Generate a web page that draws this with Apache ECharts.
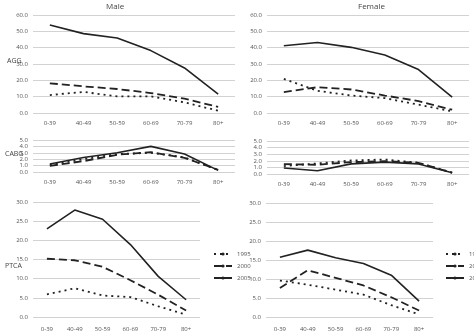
<!DOCTYPE html>
<html><head><meta charset="utf-8">
<script src="https://cdn.jsdelivr.net/npm/echarts@6/dist/echarts.min.js"></script>
<style>html,body{margin:0;padding:0;background:#fff}#c{width:474px;height:332px}</style>
</head><body><div id="c"></div>
<script>
const categories = ['0-39','40-49','50-59','60-69','70-79','80+'];
const years = ['1995','2000','2005'];
// AGG
const maleAgg1995 = [11.0, 12.9, 10.2, 10.2, 6.5, 1.4];
const maleAgg2000 = [18.2, 16.3, 14.7, 12.2, 8.8, 3.7];
const maleAgg2005 = [53.9, 48.6, 45.9, 38.2, 27.6, 11.6];
const femaleAgg1995 = [20.9, 13.6, 10.7, 9.1, 5.1, 1.0];
const femaleAgg2000 = [12.8, 15.8, 14.4, 10.7, 7.3, 2.0];
const femaleAgg2005 = [41.2, 43.2, 40.2, 35.5, 26.6, 9.7];
// CABG
const maleCabg1995 = [1.1, 2.0, 2.8, 3.0, 2.3, 0.3];
const maleCabg2000 = [0.96, 1.7, 2.7, 3.1, 2.2, 0.35];
const maleCabg2005 = [1.26, 2.27, 3.0, 4.0, 2.8, 0.25];
const femaleCabg1995 = [1.2, 1.6, 2.05, 2.2, 1.7, 0.2];
const femaleCabg2000 = [1.5, 1.4, 1.8, 1.94, 1.7, 0.2];
const femaleCabg2005 = [0.92, 0.5, 1.53, 1.8, 1.53, 0.2];
// PTCA
const malePtca1995 = [5.9, 7.5, 5.6, 5.2, 2.8, 0.6];
const malePtca2000 = [15.2, 14.8, 13.1, 9.6, 5.8, 1.7];
const malePtca2005 = [23.0, 27.9, 25.5, 18.9, 10.6, 4.5];
const femalePtca1995 = [9.6, 8.5, 7.2, 5.9, 3.1, 0.7];
const femalePtca2000 = [7.65, 12.3, 10.3, 8.3, 5.2, 1.7];
const femalePtca2005 = [15.7, 17.6, 15.6, 14.1, 11.0, 4.2];
const aggTicks = {min:0, max:60, interval:10};
const cabgTicks = {min:0, max:5, interval:1};
const ptcaTicks = {min:0, max:30, interval:5};

const FONT = 'Open Sans';
const grids = [
  {left:33, top:15, width:202, height:98},
  {left:267, top:15, width:202, height:98},
  {left:33, top:140, width:202, height:32},
  {left:267, top:141, width:202, height:33},
  {left:33, top:202, width:167, height:116},
  {left:266, top:203, width:167, height:115}
];
const ticks = [aggTicks, aggTicks, cabgTicks, cabgTicks, ptcaTicks, ptcaTicks];
const data = [
  [maleAgg1995, maleAgg2000, maleAgg2005],
  [femaleAgg1995, femaleAgg2000, femaleAgg2005],
  [maleCabg1995, maleCabg2000, maleCabg2005],
  [femaleCabg1995, femaleCabg2000, femaleCabg2005],
  [malePtca1995, malePtca2000, malePtca2005],
  [femalePtca1995, femalePtca2000, femalePtca2005]
];
const styles = [
  {type:[2,4], width:1.8, color:'#222'},
  {type:[8,4], width:1.8, color:'#222'},
  {type:'solid', width:1.6, color:'#222'}
];
const labelMargin = [7,7,7,7,9,9];
const xAxes = grids.map((g,i)=>({
  type:'category', gridIndex:i, data:categories, boundaryGap:true,
  axisLine:{show:false}, axisTick:{show:false},
  axisLabel:{fontSize:6, color:'#555', fontFamily:FONT, margin:labelMargin[i], interval:0}
}));
const yAxes = grids.map((g,i)=>({
  type:'value', gridIndex:i, min:ticks[i].min, max:ticks[i].max, interval:ticks[i].interval,
  axisLine:{show:false}, axisTick:{show:false},
  axisLabel:{fontSize:6, color:'#555', fontFamily:FONT, margin:5, formatter:v=>v.toFixed(1)},
  splitLine:{lineStyle:{color:'#d2d2d2', width:1}}
}));
const series = [];
data.forEach((grp,i)=>{
  grp.forEach((vals,k)=>{
    series.push({
      name: years[k], type:'line', xAxisIndex:i, yAxisIndex:i, data:vals,
      symbol:'none', lineStyle:styles[k], itemStyle:{color:'#222'}, z: 3+k,
      silent:true, animation:false
    });
  });
});
const legendCommon = {
  orient:'vertical', data:years, itemWidth:18, itemHeight:4, itemGap:6,
  textStyle:{fontSize:6, color:'#555', fontFamily:FONT}, selectedMode:false
};
const option = {
  animation:false,
  title:[
    {text:'Male', left:101, top:-2, textStyle:{fontSize:8, fontWeight:'normal', color:'#444', fontFamily:FONT}},
    {text:'Female', left:353, top:-2, textStyle:{fontSize:8, fontWeight:'normal', color:'#444', fontFamily:FONT}},
    {text:'AGG', left:2, top:52, textStyle:{fontSize:7, fontWeight:'normal', color:'#444', fontFamily:FONT}},
    {text:'CABG', left:0, top:145, textStyle:{fontSize:7, fontWeight:'normal', color:'#444', fontFamily:FONT}},
    {text:'PTCA', left:0, top:257, textStyle:{fontSize:7, fontWeight:'normal', color:'#444', fontFamily:FONT}}
  ],
  grid: grids,
  xAxis: xAxes,
  yAxis: yAxes,
  legend:[
    Object.assign({left:208, top:246}, legendCommon),
    Object.assign({left:440, top:246}, legendCommon)
  ],
  series: series
};
const chart = echarts.init(document.getElementById('c'), null, {renderer:'canvas'});
chart.setOption(option);
</script>
</body></html>
